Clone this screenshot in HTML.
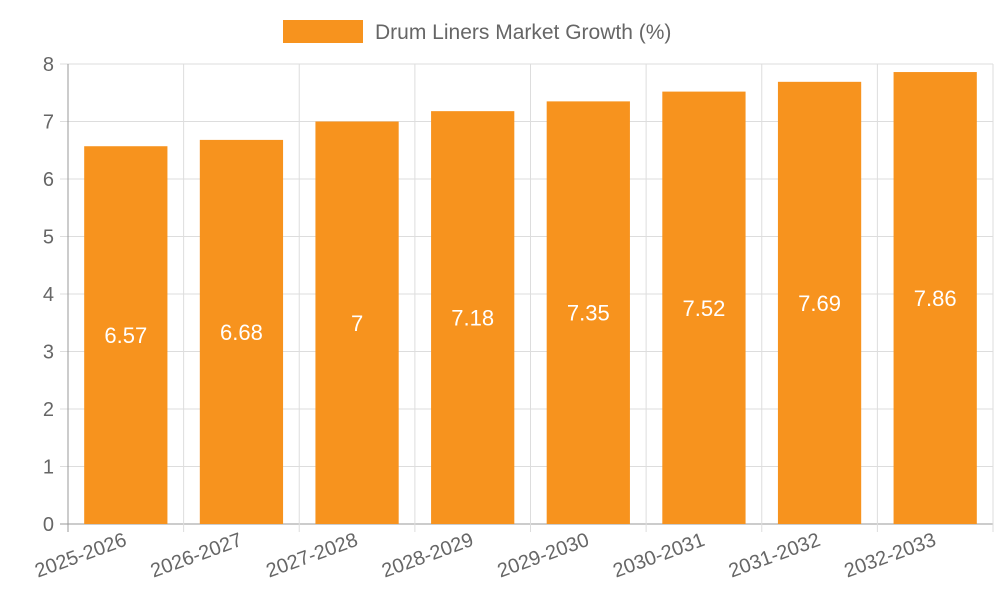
<!DOCTYPE html>
<html><head><meta charset="utf-8"><style>
body{margin:0;background:#fff;}
svg{font-family:"Liberation Sans",sans-serif;}
</style></head><body>
<svg id="chart" width="1000" height="600" viewBox="0 0 1000 600">
<g id="grid"></g>
<g id="bars"></g>
<g id="axes"></g>
<g>
<rect x="283" y="20" width="80" height="23" fill="#f7931e"/>
<text x="375" y="39" font-size="21" fill="#666">Drum Liners Market Growth (%)</text>
</g>
</svg>
<script>
const categories=["2025-2026","2026-2027","2027-2028","2028-2029","2029-2030","2030-2031","2031-2032","2032-2033"];
const values=[6.57,6.68,7,7.18,7.35,7.52,7.69,7.86];
const valueLabels=["6.57","6.68","7","7.18","7.35","7.52","7.69","7.86"];
const yTicks=[0,1,2,3,4,5,6,7,8];
const NS="http://www.w3.org/2000/svg";
const L=68,R=993,T=64,B=524,yMax=8;
const bw=(R-L)/categories.length;
const y=v=>B-(v/yMax)*(B-T);
const x=i=>L+i*bw;
function mk(tag,attrs,parent){const e=document.createElementNS(NS,tag);for(const k in attrs)e.setAttribute(k,attrs[k]);parent.appendChild(e);return e;}
const grid=document.getElementById('grid'),bars=document.getElementById('bars'),axes=document.getElementById('axes');
yTicks.forEach(t=>{
 const g=mk('line',{x1:L-8,x2:R,y1:y(t),y2:y(t),stroke:t===0?'#999':'#ddd','stroke-width':1},grid);
 
 
 const tx=mk('text',{x:L-14,y:y(t)+7,'font-size':20,fill:'#666','text-anchor':'end'},axes);
 tx.textContent=t;
 
 
});
for(let i=0;i<=categories.length;i++){
 const g=mk('line',{x1:x(i),x2:x(i),y1:T,y2:B+8,stroke:i===0?'#999':'#ddd','stroke-width':1},grid);
 
 
}
categories.forEach((c,i)=>{
 const cx=x(i)+bw/2,w=bw*0.72;
 const r=mk('rect',{x:cx-w/2,y:y(values[i]),width:w,height:B-y(values[i]),fill:'#f7931e'},bars);
 
 
 const vl=mk('text',{x:cx,y:(y(values[i])+B)/2+8,'font-size':22,fill:'#fff','text-anchor':'middle'},bars);
 vl.textContent=valueLabels[i];
 
 
 const xl=mk('text',{x:cx+2,y:545,'font-size':20,fill:'#666','text-anchor':'end',transform:`rotate(-20 ${cx+2} 545)`},axes);
 xl.textContent=c;
 
 
});
</script>
</body></html>
